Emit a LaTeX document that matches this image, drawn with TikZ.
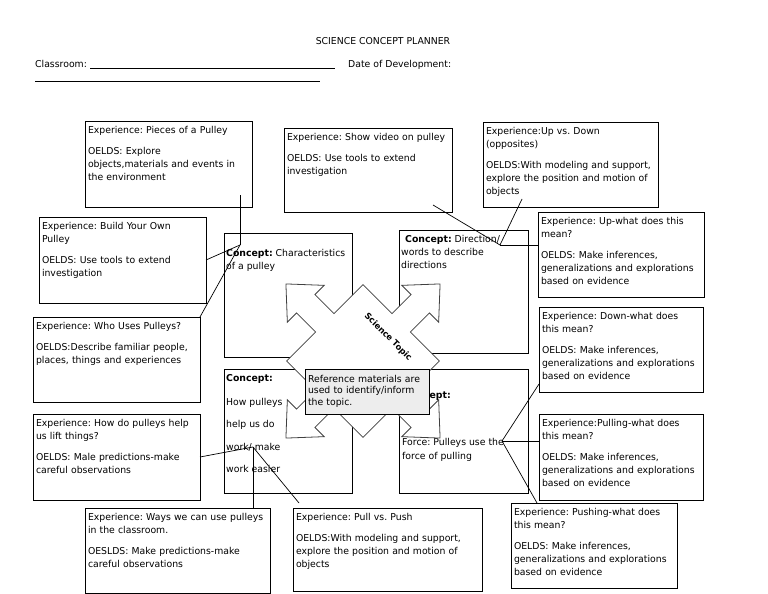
\documentclass[tikz,border=0pt]{standalone}
\usepackage{fontspec}
\setmainfont[FakeStretch=0.98]{DejaVu Sans}
\frenchspacing
\begin{document}
\begin{tikzpicture}[x=1pt, y=-1pt, font=\fontsize{9.5}{13}\selectfont]
  \tikzstyle{box}=[draw, line width=0.8pt, anchor=north west, align=left, inner sep=3pt, outer sep=0pt, text height=9pt]
  \tikzstyle{concept}=[draw, line width=0.8pt, anchor=north west, inner sep=0pt, outer sep=0pt]
  \tikzstyle{txt}=[anchor=base west, inner sep=0pt]
  \tikzstyle{link}=[line width=0.7pt]

  \useasboundingbox (0,0) rectangle (768,594);

  % header
  \node (title) at (383,41) {SCIENCE CONCEPT PLANNER};
  \node[txt] (classroom) at (35,67) {Classroom:};
  \node[txt] (date) at (348,67) {Date of Development:};
  \draw[line width=0.8pt] (90,68) -- (335,68);
  \draw[line width=0.8pt] (35,81) -- (320,81);

  % concept boxes
  \node[concept, minimum width=128pt, minimum height=124pt] (cpulley) at (224,233) {};
  \node[concept, minimum width=129pt, minimum height=123pt] (cdir)    at (399,230) {};
  \node[concept, minimum width=128pt, minimum height=124pt] (chow)    at (224,369) {};
  \node[concept, minimum width=129pt, minimum height=124pt] (cforce)  at (399,369) {};

  \node[txt] (cpulley1) at (226,256) {\textbf{Concept:} Characteristics};
  \node[txt] (cpulley2) at (226,269) {of a pulley};
  \node[txt] (cdir1) at (405,242) {\textbf{Concept:} Direction/};
  \node[txt] (cdir2) at (401,255) {words to describe};
  \node[txt] (cdir3) at (401,268) {directions};
  \node[txt] (chow1) at (226,381) {\textbf{Concept:}};
  \node[txt] (chow2) at (226,405) {How pulleys};
  \node[txt] (chow3) at (226,427) {help us do};
  \node[txt] (chow4) at (226,450) {work/ make};
  \node[txt] (chow5) at (226,472) {work easier};
  \node[txt] (cforce1) at (404,398) {\textbf{Concept:}};
  \node[txt] (cforce2) at (402,445) {Force: Pulleys use the};
  \node[txt] (cforce3) at (402,459) {force of pulling};

  % science topic
  \begin{scope}[shift={(363,361)}, rotate=45]
    \draw[line width=0.8pt, draw=black!75, fill=white]
      (54,13) -- (81,13) -- (81,26) -- (109,0) -- (81,-26) -- (81,-13) -- (54,-13) -- (54,-54) --
      (13,-54) -- (13,-81) -- (26,-81) -- (0,-109) -- (-26,-81) -- (-13,-81) -- (-13,-54) -- (-54,-54) --
      (-54,-13) -- (-81,-13) -- (-81,-26) -- (-109,0) -- (-81,26) -- (-81,13) -- (-54,13) -- (-54,54) --
      (-13,54) -- (-13,81) -- (-26,81) -- (0,109) -- (26,81) -- (13,81) -- (13,54) -- (54,54) -- cycle;
  \end{scope}
  \node[rotate=-45, font=\fontsize{8.5}{10}\selectfont\bfseries] (topic) at (388,337) {Science Topic};

  \node[box, fill=black!7, text width=118pt, text height=10pt, text depth=29pt,
        font=\fontsize{9.5}{11.8}\selectfont] (ref) at (305,369)
    {Reference materials are\\used to identify/inform\\the topic.};

  % experience boxes
  \node[box, text width=161pt, text depth=71pt] (pieces) at (85,121)
    {Experience: Pieces of a Pulley\\[8pt]OELDS: Explore\\objects,materials and events in\\the environment};
  \node[box, text width=161pt, text depth=71pt] (build) at (39,217)
    {Experience: Build Your Own\\Pulley\\[8pt]OELDS: Use tools to extend\\investigation};
  \node[box, text width=161pt, text depth=70pt] (whouses) at (33,317)
    {Experience: Who Uses Pulleys?\\[8pt]OELDS:Describe familiar people,\\places, things and experiences};
  \node[box, text width=161pt, text depth=71pt] (howdo) at (33,414)
    {Experience: How do pulleys help\\us lift things?\\[8pt]OELDS: Male predictions-make\\careful observations};
  \node[box, text width=179pt, text depth=70pt] (ways) at (85,508)
    {Experience: Ways we can use pulleys\\in the classroom.\\[8pt]OESLDS: Make predictions-make\\careful observations};
  \node[box, text width=183pt, text depth=68pt] (pull) at (293,508)
    {Experience: Pull vs. Push\\[8pt]OELDS:With modeling and support,\\explore the position and motion of\\objects};
  \node[box, text width=162pt, text depth=69pt] (showvid) at (284,128)
    {Experience: Show video on pulley\\[8pt]OELDS: Use tools to extend\\investigation};
  \node[box, text width=169pt, text depth=70pt] (updown) at (483,122)
    {Experience:Up vs. Down\\(opposites)\\[8pt]OELDS:With modeling and support,\\explore the position and motion of\\objects};
  \node[box, text width=160pt, text depth=70pt] (upwhat) at (538,212)
    {Experience: Up-what does this\\mean?\\[8pt]OELDS: Make inferences,\\generalizations and explorations\\based on evidence};
  \node[box, text width=158pt, text depth=70pt] (downwhat) at (539,307)
    {Experience: Down-what does\\this mean?\\[8pt]OELDS: Make inferences,\\generalizations and explorations\\based on evidence};
  \node[box, text width=158pt, text depth=71pt] (pulling) at (539,414)
    {Experience:Pulling-what does\\this mean?\\[8pt]OELDS: Make inferences,\\generalizations and explorations\\based on evidence};
  \node[box, text width=160pt, text depth=70pt] (pushing) at (511,503)
    {Experience: Pushing-what does\\this mean?\\[8pt]OELDS: Make inferences,\\generalizations and explorations\\based on evidence};

  % links
  \coordinate (jpulley) at (240,245);
  \coordinate (piecesend) at (240,195);
  \coordinate (jdir) at (500,245);
  \coordinate (showend) at (433,205);
  \coordinate (updownend) at (522,199);
  \coordinate (jforce) at (502,441);
  \coordinate (downend) at (539,384);
  \coordinate (pushend) at (537,503);
  \coordinate (jhow) at (253,447);
  \coordinate (pullend) at (299,503);

  \path[link] (piecesend) edge (jpulley);
  \path[link] (build.east) edge (jpulley);
  \path[link] (whouses.north east) edge (jpulley);
  \path[link] (showend) edge (jdir);
  \path[link] (updownend) edge (jdir);
  \path[link] (jdir) edge (upwhat.west |- jdir);
  \path[link] (jforce) edge (pulling.west |- jforce);
  \path[link] (jforce) edge (downend);
  \path[link] (jforce) edge (pushend);
  \path[link] (howdo.east) edge (jhow);
  \path[link] (jhow) edge (ways.north -| jhow);
  \path[link] (jhow) edge (pullend);
\end{tikzpicture}
\end{document}
